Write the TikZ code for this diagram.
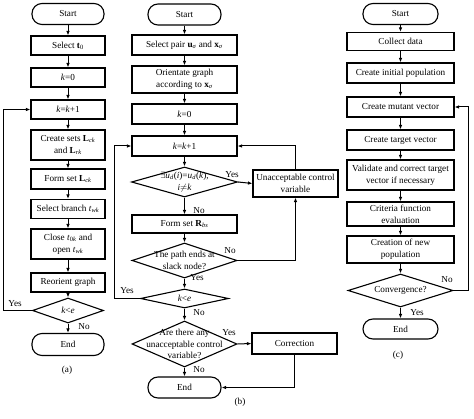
\documentclass[tikz,border=0pt]{standalone}
\usepackage{fontspec}
\setmainfont{Liberation Serif}
\usetikzlibrary{arrows.meta,shapes.geometric}
\begin{document}
\begin{tikzpicture}[x=1pt,y=-1pt,
  font=\fontsize{9.2}{11.8}\selectfont,
  every node/.style={inner sep=0pt},
  proc/.style={draw,line width=1.1pt,rectangle,align=center,minimum height=#1},
  proc/.default=20pt,
  terminal/.style={draw,line width=1.1pt,rectangle,rounded corners=10pt,minimum height=21pt},
  decision/.style={draw,line width=1.1pt,diamond},
  dtext/.style={align=center},
  lab/.style={font=\fontsize{9.2}{10}\selectfont},
  arr/.style={line width=1pt,-{Latex[length=4.5pt,width=3.5pt]}},
  pa/.style={minimum width=74pt},
  pb/.style={minimum width=105pt},
  pc/.style={minimum width=107pt}]
\useasboundingbox (0,0) rectangle (474,419);

% ---------------- panel (a)
\node[terminal,minimum width=72pt] (aS) at (68,14) {Start};
\node[proc=19pt,pa] (a1) at (68,45.5) {Select \textbf{t}\textsubscript{0}};
\node[proc=19pt,pa] (a2) at (68,77.5) {\textit{k}=0};
\node[proc=19pt,pa] (a3) at (68,109.5) {\textit{k}=\textit{k}+1};
\node[proc=30pt,pa] (a4) at (68,145) {Create sets \textbf{L}\textsubscript{\textit{ck}}\\and \textbf{L}\textsubscript{\textit{rk}}};
\node[proc=20pt,pa] (a5) at (68,179) {Form set \textbf{L}\textsubscript{\textit{ck}}};
\node[proc=19pt,pa] (a6) at (68,209) {Select branch \textit{t}\textsubscript{\textit{wk}}};
\node[proc=30pt,pa] (a7) at (68,244) {Close \textit{t}\textsubscript{0\textit{k}} and\\open \textit{t}\textsubscript{\textit{wk}}};
\node[proc=19pt,pa] (a8) at (68,282.5) {Reorient graph};
\node[decision,minimum width=71pt,minimum height=25pt] (ad) at (68,310.5) {};
\node[dtext] (adt) at (ad) {\textit{k}<\textit{e}};
\node[terminal,minimum width=72pt,minimum height=22pt] (aE) at (68,344.5) {End};
\node (acap) at (67,370) {(a)};
\coordinate (aL) at (3,310.5);

\foreach \p/\q in {aS/a1,a1/a2,a2/a3,a3/a4,a4/a5,a5/a6,a6/a7,a7/a8,a8/ad,ad/aE}
  \draw[arr] (\p) -- (\q);
\draw[arr] (ad.west) -- (aL) |- (a3.west);
\node[lab] (ay) at (15,304) {Yes};
\node[lab] (an) at (84,327) {No};

% ---------------- panel (b)
\node[terminal,minimum width=73pt] (bS) at (184.5,14.5) {Start};
\node[proc=20pt,pb] (b1) at (184.5,45) {Select pair \textbf{u}\textsubscript{\textit{σ}} and \textbf{x}\textsubscript{\textit{σ}}};
\node[proc=27pt,pb] (b2) at (184.5,79.5) {Orientate graph\\according to \textbf{x}\textsubscript{\textit{σ}}};
\node[proc=20pt,pb] (b3) at (184.5,114) {\textit{k}=0};
\node[proc=20pt,pb] (b4) at (184.5,146) {\textit{k}=\textit{k}+1};
\node[decision,minimum width=106pt,minimum height=30pt] (bd1) at (184.5,182) {};
\node[dtext] (bd1t) at (bd1) {$\exists$\textit{u\textsubscript{d}}(\textit{i})=\textit{u\textsubscript{d}}(\textit{k}),\\\textit{i}$\neq$\textit{k}};
\node[proc=27pt,minimum width=85pt] (bU) at (295.5,183.5) {Unacceptable control\\variable};
\node[proc=18pt,pb] (b5) at (184.5,224) {Form set \textbf{R}\textsubscript{\textit{bs}}};
\node[decision,minimum width=105pt,minimum height=35pt] (bd2) at (184.5,260.5) {};
\node[dtext] (bd2t) at (bd2) {The path ends at\\slack node?};
\node[decision,minimum width=88pt,minimum height=19pt] (bd3) at (184.5,298.5) {};
\node[dtext] (bd3t) at (bd3) {\textit{k}<\textit{e}};
\node[decision,minimum width=105pt,minimum height=46pt] (bd4) at (184.5,344) {};
\node[dtext] (bd4t) at (bd4) {Are there any\\unacceptable control\\variable?};
\node[proc=21pt,minimum width=85pt] (bC) at (294.5,343.5) {Correction};
\node[terminal,minimum width=73pt] (bE) at (184.5,387.5) {End};
\node (bcap) at (240,402) {(b)};
\coordinate (bL) at (114,298.5);

\foreach \p/\q in {bS/b1,b1/b2,b2/b3,b3/b4,b4/bd1,bd1/b5,b5/bd2,bd2/bd3,bd3/bd4,bd4/bE}
  \draw[arr] (\p) -- (\q);
\draw[arr] (bd1.east) -- (bU.west);
\draw[arr] (bU.north) |- (b4.east);
\draw[arr] (bd2.east) -| (bU.south);
\draw[arr] (bd3.west) -- (bL) |- (b4.west);
\draw[arr] (bd4.east) -- (bC.west);
\draw[arr] (bC.south) |- (bE.east);
\node[lab] (by1) at (232,175) {Yes};
\node[lab] (bn1) at (199,211) {No};
\node[lab] (bn2) at (230,251) {No};
\node[lab] (by2) at (197,278) {Yes};
\node[lab] (by3) at (127,291) {Yes};
\node[lab] (bn3) at (199,313) {No};
\node[lab] (by4) at (229,333) {Yes};
\node[lab] (bn4) at (199,370) {No};

% ---------------- panel (c)
\node[terminal,minimum width=75pt] (cS) at (400.5,14) {Start};
\node[proc=18pt,pc] (c1) at (400.5,41.5) {Collect data};
\node[proc=20pt,pc] (c2) at (400.5,73) {Create initial population};
\node[proc=20pt,pc] (c3) at (400.5,107) {Create mutant vector};
\node[proc=20pt,pc] (c4) at (400.5,140) {Create target vector};
\node[proc=30pt,pc] (c5) at (400.5,175) {Validate and correct target\\vector if necessary};
\node[proc=24pt,pc] (c6) at (400.5,214) {Criteria function\\evaluation};
\node[proc=27pt,pc] (c7) at (400.5,249.5) {Creation of new\\population};
\node[decision,minimum width=105pt,minimum height=33pt] (cd) at (400.5,290.5) {};
\node[dtext] (cdt) at (cd) {Convergence?};
\node[terminal,minimum width=75pt,minimum height=20pt] (cE) at (400.5,329) {End};
\node (ccap) at (398,355) {(c)};
\coordinate (cR) at (468,290.5);

\foreach \p/\q in {cS/c1,c1/c2,c2/c3,c3/c4,c4/c5,c5/c6,c6/c7,c7/cd,cd/cE}
  \draw[arr] (\p) -- (\q);
\draw[arr] (cd.east) -- (cR) |- (c3.east);
\node[lab] (cn) at (447,280) {No};
\node[lab] (cy) at (417,313) {Yes};
\end{tikzpicture}
\end{document}
